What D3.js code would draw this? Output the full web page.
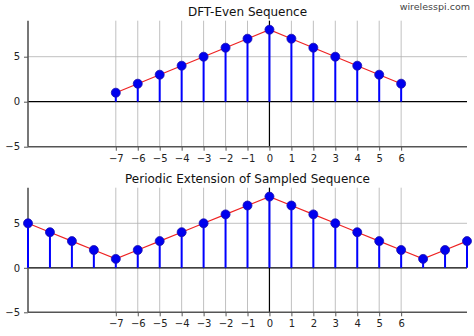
<!DOCTYPE html>
<html><head><meta charset="utf-8">
<script src="https://cdn.jsdelivr.net/npm/d3@7"></script>
<style>body{margin:0;background:#fff}svg{display:block;font-family:"DejaVu Sans",sans-serif}</style>
</head><body><svg id="c" width="474" height="336"></svg>
<script>
const titles = ["DFT-Even Sequence", "Periodic Extension of Sampled Sequence"];
const xTicks = [-7,-6,-5,-4,-3,-2,-1,0,1,2,3,4,5,6];
const yTicks = [-5,0,5];
const evenN = [-7,-6,-5,-4,-3,-2,-1,0,1,2,3,4,5,6];
const evenV = [1,2,3,4,5,6,7,8,7,6,5,4,3,2];
const perN = [-11,-10,-9,-8,-7,-6,-5,-4,-3,-2,-1,0,1,2,3,4,5,6,7,8,9];
const perV = [5,4,3,2,1,2,3,4,5,6,7,8,7,6,5,4,3,2,1,2,3];
const xDomain = [-11, 9];
const yDomain = [-5, 9];

const svg = d3.select("#c");
const fmt = d => d < 0 ? "\u2212" + Math.abs(d) : String(d);

svg.append("text").attr("x", 470).attr("y", 10).attr("text-anchor","end")
  .attr("font-size", 9.5).attr("fill", "#444").text("wirelesspi.com");

function panel(top, bottom, n, v, title) {
  const x = d3.scaleLinear().domain(xDomain).range([28, 467]);
  const y = d3.scaleLinear().domain(yDomain).range([bottom, top]);
  const g = svg.append("g");
  g.selectAll(".vg").data(xTicks).join("line")
    .attr("x1", d=>x(d)).attr("x2", d=>x(d)).attr("y1", top).attr("y2", bottom)
    .attr("stroke", "#b0b0b0").attr("stroke-width", 0.8);
  g.selectAll(".hg").data(yTicks.filter(d=>d!==0 && d!==yDomain[0])).join("line")
    .attr("x1", x(xDomain[0])).attr("x2", x(xDomain[1])).attr("y1", d=>y(d)).attr("y2", d=>y(d))
    .attr("stroke", "#b0b0b0").attr("stroke-width", 0.8);
  g.append("line").attr("x1", x(xDomain[0])).attr("x2", x(xDomain[1]))
    .attr("y1", y(0)).attr("y2", y(0)).attr("stroke", "#000").attr("stroke-width", 1.2);
  g.append("line").attr("x1", x(0)).attr("x2", x(0))
    .attr("y1", top).attr("y2", bottom).attr("stroke", "#000").attr("stroke-width", 1.2);
  const xa = g.append("g").attr("transform", `translate(0,${bottom})`)
    .call(d3.axisBottom(x).tickValues(xTicks).tickFormat(fmt).tickSize(4).tickPadding(4));
  const ya = g.append("g").attr("transform", `translate(28,0)`)
    .call(d3.axisLeft(y).tickValues(yTicks).tickFormat(fmt).tickSize(4).tickPadding(4));
  [xa, ya].forEach(a => {
    a.select(".domain").attr("stroke", "#555").attr("stroke-width", 1.6);
    a.selectAll(".tick line").attr("stroke", "#555");
    a.selectAll("text").attr("font-size", 10).attr("fill", "#222")
      .attr("font-family", "DejaVu Sans");
  });
  xa.select(".domain").attr("d", `M${x(xDomain[0])},0H${x(xDomain[1])}`);
  ya.select(".domain").attr("d", `M0,${top}V${bottom}`);
  g.selectAll(".st").data(n).join("line")
    .attr("x1", d=>x(d)).attr("x2", d=>x(d)).attr("y1", y(0)).attr("y2", (d,i)=>y(v[i]))
    .attr("stroke", "#0000ff").attr("stroke-width", 2);
  const line = d3.line().x(d=>x(d[0])).y(d=>y(d[1]));
  g.append("path").datum(n.map((d,i)=>[d, v[i]])).attr("d", line)
    .attr("fill", "none").attr("stroke", "#ee2222").attr("stroke-width", 1.2);
  g.selectAll(".mk").data(n).join("circle")
    .attr("cx", d=>x(d)).attr("cy", (d,i)=>y(v[i])).attr("r", 4.5)
    .attr("fill", "#0000ee").attr("stroke", "#1a0fb0").attr("stroke-width", 0.8);
  svg.append("text").attr("x", 247.5).attr("y", top - 5).attr("text-anchor", "middle")
    .attr("font-size", 12).attr("fill", "#111").text(title);
}
panel(20.7, 146.7, evenN, evenV, titles[0]);
panel(187.7, 312.3, perN, perV, titles[1]);
</script></body></html>
